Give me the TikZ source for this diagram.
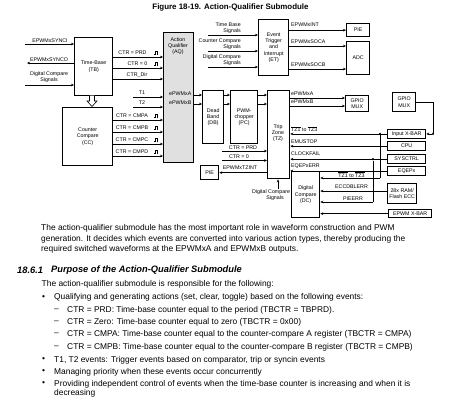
\documentclass[tikz,border=0pt]{standalone}
\usepackage{fontspec}
\setmainfont{Liberation Sans}
\usetikzlibrary{arrows.meta}
\newcommand\smf{\fontsize{5.3}{6.2}\selectfont}
\newcommand\bodyf{\fontsize{8.4}{10}\selectfont}
\newcommand\ovl[1]{$\overline{\mbox{#1}}$}
\tikzset{
  bx/.style={draw, line width=1.3pt, inner sep=0pt, anchor=north west, align=center, font=\smf},
  thinln/.style={line width=0.5pt},
  arr/.style={line width=0.5pt, -{Stealth[length=3pt,width=2.6pt]}},
  lbl/.style={font=\smf, inner sep=0pt, align=center},
  lblw/.style={font=\smf, inner sep=0pt, anchor=west},
  txt/.style={font=\bodyf, inner sep=0pt, anchor=west},
  dotn/.style={circle, fill, inner sep=0pt, minimum size=2.4pt},
  pulse/.pic={\draw[line width=0.4pt] (-2,1.5) -- (-1,1.5) -- (-1,-1.5) -- (1,-1.5) -- (1,1.5) -- (2,1.5);}
}
\begin{document}
\begin{tikzpicture}[x=1pt,y=-1pt]
\useasboundingbox (0,0) rectangle (474,410);
% title
\node[font=\bfseries\fontsize{7.9}{9}\selectfont, inner sep=0pt] (title) at (230.5,7) {Figure 18-19. Action-Qualifier Submodule};
% boxes
\node[bx, minimum width=38pt, minimum height=58pt] (TB) at (74,37) {Time-Base\\(TB)};
\node[bx, minimum width=50pt, minimum height=58pt] (CC) at (62,107) {Counter\\Compare\\(CC)};
\node[bx, minimum width=30pt, minimum height=130pt, fill=black!12] (AQ) at (163,32) {};
\node[lbl] (AQt) at (178,46) {Action\\Qualifier\\(AQ)};
\node[bx, minimum width=30pt, minimum height=56pt] (ET) at (258,19) {Event\\Trigger\\and\\Interrupt\\(ET)};
\node[bx, minimum width=23pt, minimum height=13pt] (PIEa) at (346,23) {PIE};
\node[bx, minimum width=23pt, minimum height=33pt] (ADC) at (346,41) {ADC};
\node[bx, minimum width=21pt, minimum height=53pt] (DB) at (202,90) {Dead\\Band\\(DB)};
\node[bx, minimum width=27pt, minimum height=53pt] (PC) at (230,90) {PWM-\\chopper\\(PC)};
\node[bx, minimum width=22pt, minimum height=88pt] (TZ) at (267,90) {};
\node[lbl] (TZt) at (278,133) {Trip\\Zone\\(TZ)};
\node[bx, minimum width=23pt, minimum height=16pt] (GPa) at (345,95) {GPIO\\MUX};
\node[bx, minimum width=23pt, minimum height=19pt] (GPb) at (392,92) {GPIO\\MUX};
\node[bx, minimum width=38pt, minimum height=8.5pt] (IXB) at (387,129) {Input X-BAR};
\node[bx, minimum width=38pt, minimum height=9pt] (CPU) at (387,141) {CPU};
\node[bx, minimum width=38pt, minimum height=9pt] (SYS) at (387,154) {SYSCTRL};
\node[bx, minimum width=38pt, minimum height=8.5pt] (EQ) at (387,166) {EQEPx};
\node[bx, minimum width=29pt, minimum height=20pt] (RAM) at (387,183) {28x RAM/\\Flash ECC};
\node[bx, minimum width=43pt, minimum height=8pt] (EXB) at (388,209) {EPWM X-BAR};
\node[bx, minimum width=28pt, minimum height=46pt] (DC) at (291,171) {Digital\\Compare\\(DC)};
\node[bx, minimum width=18pt, minimum height=14pt] (PIEb) at (200,165) {PIE};
% TB left side
\coordinate (sI) at (25,44);
\coordinate (sO) at (27,63);
\coordinate (dcI) at (25,85);
\draw[arr] (sI) -- (TB.west |- sI);
\node[lbl] (lsI) at (50,41) {EPWMxSYNCI};
\draw[arr] (TB.west |- sO) -- (sO);
\node[lbl] (lsO) at (49,60) {EPWMxSYNCO};
\draw[arr] (dcI) -- (TB.west |- dcI);
\node[lbl] (ldc) at (49,77) {Digital Compare\\Signals};
% TB -> AQ
\foreach \yy/\tt/\xx in {57/{CTR = PRD}/132.5, 68/{CTR = 0}/137.5, 79/{CTR\_Dir}/137}{
  \draw[arr] (TB.east |- 0,\yy) -- (AQ.west |- 0,\yy);
  \node[lbl] at (\xx,\yy-4) {\tt};
}
\pic at (156,53) {pulse};
\pic at (156,64) {pulse};
% T1 T2
\coordinate (t1) at (133,97);
\coordinate (t2) at (133,107);
\draw[arr] (t1) -- (AQ.west |- t1);
\draw[arr] (t2) -- (AQ.west |- t2);
\node[lbl] (lt1) at (142,93) {T1};
\node[lbl] (lt2) at (142,103) {T2};
% hollow arrow TB -> CC
\draw[line width=0.6pt, fill=white] (89.5,95.5) -- (89.5,101) -- (87,101) -- (92,106.5) -- (97,101) -- (94.5,101) -- (94.5,95.5);
% CC -> AQ
\foreach \yy/\tt in {120/{CTR = CMPA}, 132/{CTR = CMPB}, 144/{CTR = CMPC}, 156/{CTR = CMPD}}{
  \draw[arr] (CC.east |- 0,\yy) -- (AQ.west |- 0,\yy);
  \node[lbl] at (132,\yy-4) {\tt};
  \pic at (156,\yy-4) {pulse};
}
% AQ outputs
\node[lbl, anchor=east] (aqA) at (191.5,94) {ePWMxA};
\node[lbl, anchor=east] (aqB) at (191.5,103) {ePWMxB};
\foreach \yy in {95,104}{
  \draw[arr] (AQ.east |- 0,\yy) -- (DB.west |- 0,\yy);
  \draw[arr] (DB.east |- 0,\yy) -- (PC.west |- 0,\yy);
  \draw[arr] (PC.east |- 0,\yy) -- (TZ.west |- 0,\yy);
}
% ET inputs
\foreach \yy/\tt in {35/{Time Base\\Signals}, 51/{Counter Compare\\Signals}, 67/{Digital Compare\\Signals}}{
  \draw[arr] (208,\yy) -- (ET.west |- 0,\yy);
  \node[font=\smf, inner sep=0pt, align=right, anchor=south east] at (241,\yy-1.5) {\tt};
}
% ET outputs
\draw[arr] (ET.east |- PIEa.west) -- (PIEa.west);
\node[lblw] at (291,25) {EPWMxINT};
\draw[arr] (ET.east |- 0,46) -- (ADC.west |- 0,46);
\node[lblw] at (291,42) {EPWMxSOCA};
\draw[arr] (ET.east |- 0,69) -- (ADC.west |- 0,69);
\node[lblw] at (291,64.5) {EPWMxSOCB};
% TZ outputs
\draw[arr] (TZ.east |- 0,98) -- (GPa.west |- 0,98);
\node[lblw] at (291,94) {ePWMxA};
\draw[arr] (TZ.east |- 0,106) -- (GPa.west |- 0,106);
\node[lblw] at (291,102) {ePWMxB};
% GPIO2 -> Input X-BAR
\coordinate (gc1) at (433,101.5);
\node[dotn] (gdot) at (433,0 |- IXB.east) {};
\draw[thinln] (GPb.east) -- (GPb.east -| gc1) -- (gdot);
\draw[arr] (gdot) -- (IXB.east);
% TZ right inputs
\draw[arr] (IXB.west) -- (TZ.east |- IXB.west);
\node[lblw] at (291,129) {\ovl{TZ1} to \ovl{TZ3}};
\draw[arr] (CPU.west) -- (TZ.east |- CPU.west);
\node[lblw] at (291,141.5) {EMUSTOP};
\draw[arr] (SYS.west) -- (TZ.east |- SYS.west);
\node[lblw] at (291,154) {CLOCKFAIL};
\draw[arr] (EQ.west) -- (TZ.east |- EQ.west);
\node[lblw] at (291,166.5) {EQEPxERR};
% branches to DC
\node[dotn] (d1) at (380,0 |- IXB.west) {};
\coordinate (c1) at (380,178);
\draw[thinln] (d1) -- (c1);
\draw[arr] (c1) -- (DC.east |- c1);
\node[lbl] at (351.5,174.5) {\ovl{TZ1} to \ovl{TZ3}};
\node[dotn] (d2) at (373,0 |- SYS.west) {};
\coordinate (c2) at (373,202);
\draw[thinln] (d2) -- (c2);
\draw[arr] (c2) -- (DC.east |- c2);
\node[lbl] at (353,198.5) {PIEERR};
\draw[arr] (RAM.west |- 0,191) -- (DC.east |- 0,191);
\node[lbl] at (351.5,187) {ECCDBLERR};
\draw[arr] (EXB.west) -- (DC.east |- EXB.west);
% TZ left inputs
\draw[arr] (222,151) -- (TZ.west |- 0,151);
\node[lbl] at (243,147.5) {CTR = PRD};
\draw[arr] (222,160.5) -- (TZ.west |- 0,160.5);
\node[lbl] at (239,157) {CTR = 0};
\draw[arr] (TZ.west |- PIEb.east) -- (PIEb.east);
\node[lbl] at (240,167.5) {EPWMxTZINT};
% DC signals into TZ
\coordinate (dcs) at (278,188.5);
\draw[arr] (dcs) -- (TZ.south -| dcs);
\node[lbl] at (271,195.5) {Digital Compare\\\hspace*{8pt}Signals};
% body text
\node[txt] at (41,228.5) {The action-qualifier submodule has the most important role in waveform construction and PWM};
\node[txt] at (41,239) {generation. It decides which events are converted into various action types, thereby producing the};
\node[txt] at (41,249.5) {required switched waveforms at the EPWMxA and EPWMxB outputs.};
\node[txt, font=\bfseries\itshape\fontsize{9.3}{11}\selectfont] at (17,270) {18.6.1};
\node[txt, font=\bfseries\itshape\fontsize{9.3}{11}\selectfont] at (51,270) {Purpose of the Action-Qualifier Submodule};
\node[txt] at (41.5,284) {The action-qualifier submodule is responsible for the following:};
\foreach \yy/\tt in {297.5/{Qualifying and generating actions (set, clear, toggle) based on the following events:},
  360/{T1, T2 events: Trigger events based on comparator, trip or syncin events},
  372/{Managing priority when these events occur concurrently},
  384/{Providing independent control of events when the time-base counter is increasing and when it is}}{
  \node[txt] at (42,\yy) {\textbullet};
  \node[txt] at (54,\yy) {\tt};
}
\node[txt] at (54,393.5) {decreasing};
\foreach \yy/\tt in {310/{CTR = PRD: Time-base counter equal to the period (TBCTR = TBPRD).},
  322/{CTR = Zero: Time-base counter equal to zero (TBCTR = 0x00)},
  334.5/{CTR = CMPA: Time-base counter equal to the counter-compare A register (TBCTR = CMPA)},
  347/{CTR = CMPB: Time-base counter equal to the counter-compare B register (TBCTR = CMPB)}}{
  \node[txt] at (54,\yy) {--};
  \node[txt] at (67,\yy) {\tt};
}
\end{tikzpicture}
\end{document}
